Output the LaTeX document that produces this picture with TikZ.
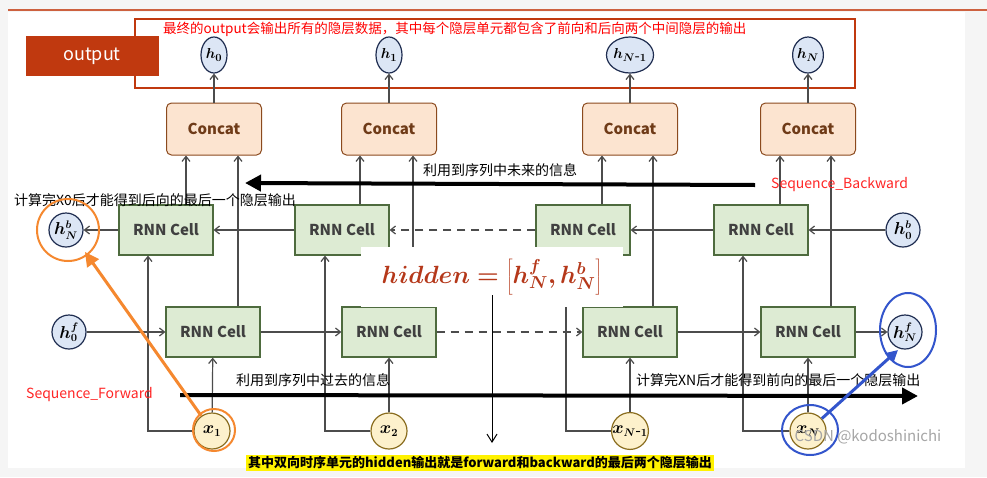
\documentclass[tikz,border=0pt]{standalone}
\usepackage{fontspec}
\usepackage{bm}
\setmainfont{Noto Sans CJK SC}
\usetikzlibrary{arrows.meta,shapes.geometric}
\definecolor{cellfill}{HTML}{DDEBD3}
\definecolor{celldraw}{HTML}{4E6B3E}
\definecolor{catfill}{HTML}{FCE4D0}
\definecolor{catdraw}{HTML}{8B4A1E}
\definecolor{hfill}{HTML}{DCE6F5}
\definecolor{hdraw}{HTML}{1F2D50}
\definecolor{xfill}{HTML}{FDF1CC}
\definecolor{xdraw}{HTML}{8A6D1F}
\definecolor{outred}{HTML}{C0390F}
\definecolor{hidred}{HTML}{B5381A}
\definecolor{markorange}{HTML}{F5882F}
\definecolor{markblue}{HTML}{3355CC}
\tikzset{
  cell/.style={draw=celldraw,line width=1.2pt,fill=cellfill,minimum width=94pt,minimum height=50pt,
    font=\fontsize{15}{15}\selectfont\bfseries,text=black!75},
  cat/.style={draw=catdraw,line width=1pt,fill=catfill,rounded corners=5pt,minimum width=95pt,minimum height=52pt,
    font=\fontsize{15}{15}\selectfont\bfseries,text=catdraw!80!black},
  hnode/.style={draw=hdraw,line width=1.2pt,fill=hfill,circle,minimum size=34pt,inner sep=0pt,font=\fontsize{16}{16}\selectfont},
  hout/.style={draw=hdraw,line width=1.2pt,fill=hfill,ellipse,minimum width=26pt,minimum height=36pt,inner sep=0pt,font=\fontsize{15}{15}\selectfont},
  xnode/.style={draw=xdraw,line width=1.2pt,fill=xfill,circle,minimum size=36pt,inner sep=0pt,font=\fontsize{16}{16}\selectfont},
  link/.style={draw=black!70,line width=1.2pt,-{Straight Barb[length=5pt,width=8pt]}},
  dlink/.style={link,dash pattern=on 8pt off 6pt},
  note/.style={font=\fontsize{14}{14}\selectfont,anchor=west,inner sep=0pt},
  rednote/.style={note,text=red!85!white},
  big/.style={line width=4pt,-{Triangle[length=16pt,width=16pt]}}
}
\begin{document}
\begin{tikzpicture}[x=1pt,y=-1pt]
\fill[black!4] (0,0) rectangle (987,477);
\fill[white] (8,12) rectangle (965,468);
\useasboundingbox (0,0) rectangle (987,477);
\draw[outred!80,line width=1.5pt] (8,10) -- (987,10);

% output frame
\draw[outred,line width=1.2pt] (135,19) rectangle (855,88);
\node[fill=outred,text=white,minimum width=133pt,minimum height=40pt,font=\fontsize{18}{18}\selectfont] (out) at (92,56) {output};
\node[anchor=west,inner sep=0pt,text=red,font=\fontsize{13.5}{13.5}\selectfont] (topnote) at (163,29) {最终的output会输出所有的隐层数据，其中每个隐层单元都包含了前向和后向两个中间隐层的输出};

% output nodes
\node[hout] (h0) at (214,55) {$\bm{h_0}$};
\node[hout] (h1) at (389,55) {$\bm{h_1}$};
\node[hout] (hn1) at (630,55) {$\bm{h_{N\mbox{-}1}}$};
\node[hout] (hn) at (808,55) {$\bm{h_N}$};

% concat
\node[cat] (c1) at (214,129) {Concat};
\node[cat] (c2) at (389,129) {Concat};
\node[cat] (c3) at (630,129) {Concat};
\node[cat] (c4) at (808,129) {Concat};
\foreach \c/\h in {c1/h0,c2/h1,c3/hn1,c4/hn} \draw[link] (\c) -- (\h);

% backward cells
\node[cell] (b1) at (166,230) {RNN Cell};
\node[cell] (b2) at (342,230) {RNN Cell};
\node[cell] (b3) at (583,230) {RNN Cell};
\node[cell] (b4) at (761,230) {RNN Cell};
% forward cells
\node[cell] (f1) at (213,332) {RNN Cell};
\node[cell] (f2) at (389,332) {RNN Cell};
\node[cell] (f3) at (630,332) {RNN Cell};
\node[cell] (f4) at (808,332) {RNN Cell};

% hidden state nodes
\node[hnode] (hbN) at (66,230) {$\bm{h^b_N}$};
\node[hnode] (hb0) at (903,230) {$\bm{h^b_0}$};
\node[hnode] (hf0) at (69,332) {$\bm{h^f_0}$};
\node[hnode] (hfN) at (905,332) {$\bm{h^f_N}$};

% inputs
\node[xnode] (x1) at (212,431) {$\bm{x_1}$};
\node[xnode] (x2) at (389,431) {$\bm{x_2}$};
\node[xnode] (x3) at (630,431) {$\bm{x_{N\mbox{-}1}}$};
\node[xnode] (x4) at (808,431) {$\bm{x_N}$};

% up into concat
\foreach \b/\f/\c/\xl/\xr in {b1/f1/c1/186/238,b2/f2/c2/360/413,b3/f3/c3/602/653,b4/f4/c4/780/831}{
  \draw[link] (\b.north -| \xl,0) -- (\c.south -| \xl,0);
  \draw[link] (\f.north -| \xr,0) -- (\c.south -| \xr,0);
}
% inputs to cells
\foreach \x/\f/\b/\xl in {x1/f1/b1/148,x2/f2/b2/325,x3/f3/b3/566,x4/f4/b4/743}{
  \draw[link] (\x) -- (\f);
  \draw[link] (\x.west) -- (\xl,431) -- (\b.south -| \xl,0);
}

% backward chain
\draw[link] (hb0) -- (b4);
\draw[link] (b4) -- (b3);
\draw[dlink] (b3) -- (b2);
\draw[link] (b2) -- (b1);
\draw[link] (b1) -- (hbN);
% forward chain
\draw[link] (hf0) -- (f1);
\draw[link] (f1) -- (f2);
\draw[dlink] (f2) -- (f3);
\draw[link] (f3) -- (f4);
\draw[link] (f4) -- (hfN);

% hidden formula
\node[fill=white,minimum width=262pt,minimum height=60pt,text=hidred,font=\fontsize{26}{26}\selectfont] (hid) at (492,277)
  {$\bm{hidden=\left[h^f_N,h^b_N\right]}$};
\coordinate (hdown) at (492,443);
\draw[black,line width=1pt,-{Straight Barb[length=8pt,width=10pt]}] (hid.south) ++(0,-12) -- (hdown);

% sequence arrows
\coordinate (bs) at (755,185); \coordinate (be) at (245,183);
\draw[big] (bs) -- (be);
\node[note] (bnote) at (423,170) {利用到序列中未来的信息};
\node[rednote] (bseq) at (771,185) {Sequence\_Backward};
\node[note] (x0note) at (14,200) {计算完X0后才能得到后向的最后一个隐层输出};

\coordinate (fs) at (180,395); \coordinate (fe) at (918,396);
\draw[big] (fs) -- (fe);
\node[note] (fnote) at (236,380) {利用到序列中过去的信息};
\node[rednote] (fseq) at (26,395) {Sequence\_Forward};
\node[note] (xnnote) at (636,380) {计算完XN后才能得到前向的最后一个隐层输出};

% highlights
\draw[markorange,line width=2pt] (68,230) circle (31);
\draw[markorange,line width=2pt] (214,430) circle (21);
\draw[markorange,line width=3pt,-{Triangle[length=14pt,width=14pt]}] (x1) -- (85,252);
\draw[markblue,line width=2pt] (908,330) ellipse (28 and 37);
\draw[markblue,line width=2pt] (810,430) ellipse (28 and 25);
\draw[markblue,line width=3pt,-{Triangle[length=12pt,width=12pt]}] (x4) -- (898,350);

\node[fill=yellow,inner sep=2pt,font=\fontsize{13}{13}\selectfont\bfseries] (bottom) at (480,463)
  {其中双向时序单元的hidden输出就是forward和backward的最后两个隐层输出};
\node[text=black!35,font=\fontsize{15}{15}\selectfont] (wm) at (868,437) {CSDN @kodoshinichi};
\end{tikzpicture}
\end{document}
